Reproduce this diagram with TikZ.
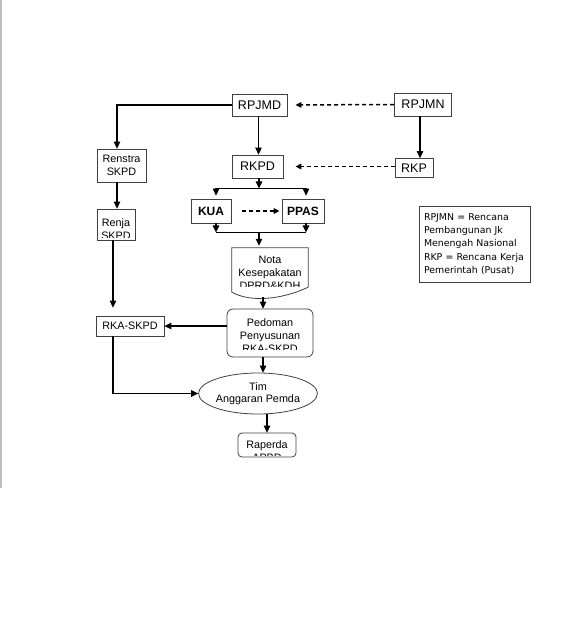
\documentclass[tikz,border=0pt]{standalone}
\usepackage{fontspec}
\setmainfont{Liberation Sans}
\newfontfamily\legendfont{DejaVu Sans}
\usepackage{tikz}
\usetikzlibrary{shapes.geometric,arrows.meta,positioning,calc}

% text in a box whose lower part is cut off
\newcommand{\cliptext}[3]{%
  \begin{scope}
    \clip (path picture bounding box.north west) rectangle
      ([yshift=-#2]path picture bounding box.north east);
    \node[anchor=north, inner sep=0pt, align=center, draw=none,
      minimum width=0pt, minimum height=0pt, rounded corners=0pt,
      font=\fontsize{10.8}{13}\selectfont]
      at ([yshift=-#1]path picture bounding box.north) {#3};
  \end{scope}}

\begin{document}
\begin{tikzpicture}[x=1pt, y=-1pt,
  box/.style={rectangle, draw=black!75, line width=0.8pt, inner sep=0pt,
    align=center, font=\fontsize{10.8}{13}\selectfont},
  bigbox/.style={box, font=\fontsize{12.5}{14}\selectfont},
  boldbox/.style={box, font=\fontsize{12}{14}\selectfont\bfseries},
  legend/.style={rectangle, draw=black!75, line width=0.8pt, align=left,
    text width=101pt, inner xsep=5pt, minimum height=76pt,
    font=\legendfont\fontsize{9.4}{13.2}\selectfont},
  arr/.style={-{Triangle[length=7pt,width=6.5pt]}, line width=1.3pt},
  dasharr/.style={-{Triangle[length=6pt,width=5.5pt]}, line width=1.5pt,
    dash pattern=on 4pt off 3pt},
  bar/.style={line width=1.3pt}
]
\useasboundingbox (0,0) rectangle (578,640);
\fill[black!25] (0,0) rectangle (2.3,488);

% Top: planning documents
\node[bigbox, minimum width=55pt, minimum height=22pt] (rpjmd) at (259.5,105) {RPJMD};
\node[bigbox, minimum width=57pt, minimum height=23pt] (rpjmn) at (423,104.5) {RPJMN};
\node[box, minimum width=49pt, minimum height=33pt] (renstra) at (121.5,165.5) {Renstra\\SKPD};
\node[bigbox, minimum width=51pt, minimum height=23pt] (rkpd) at (257.5,166.5) {RKPD};
\node[bigbox, minimum width=38pt, minimum height=19pt] (rkp) at (414,168) {RKP};
\node[boldbox, minimum width=40pt, minimum height=24pt] (kua) at (211,211) {KUA};
\node[boldbox, minimum width=42pt, minimum height=24pt] (ppas) at (303,211) {PPAS};
\node[box, minimum width=38pt, minimum height=31pt,
  path picture={\cliptext{9pt}{28.5pt}{Renja\\SKPD}}] (renja) at (116,224.5) {};

% Middle: agreement and guidelines
\node[inner sep=0pt, minimum width=76pt, minimum height=44pt,
  path picture={\cliptext{8pt}{38pt}{Nota\\Kesepakatan\\DPRD\&KDH}}] (nota) at (270,270) {};
\draw[draw=black!75, line width=0.8pt]
  ([yshift=5pt]nota.south east) -- (nota.north east) -- (nota.north west) -- (nota.south west)
  .. controls ($(nota.south west)+(18,10)$) and ($(nota.south east)+(-28,8)$)
  .. ([yshift=5pt]nota.south east);
\node[box, rounded corners=6pt, minimum width=86pt, minimum height=48pt,
  path picture={\cliptext{9pt}{40pt}{Pedoman\\Penyusunan\\RKA-SKPD}}] (pedoman) at (270,333) {};
\node[box, minimum width=68pt, minimum height=20pt] (rkaskpd) at (130,326) {RKA-SKPD};

% Bottom: budget team and draft regulation
\node[ellipse, draw=black!75, line width=0.8pt, inner sep=0pt, align=center,
  minimum width=110pt, minimum height=41pt,
  font=\fontsize{10.8}{12.5}\selectfont] (tim) at (258,393.5) {Tim\\Anggaran Pemda};
\node[box, rounded corners=4pt, minimum width=58pt, minimum height=24pt,
  path picture={\cliptext{7pt}{22pt}{Raperda\\APBD}}] (raperda) at (267,445) {};

% Legend
\node[legend] (legend) at (474.5,244) {RPJMN = Rencana\\Pembangunan Jk\\Menengah Nasional\\RKP = Rencana Kerja\\Pemerintah (Pusat)};

% Left branch
\draw[arr] (rpjmd.west) -| ([xshift=-4.5pt]renstra.north);
\draw[arr] ([xshift=-4.5pt]renstra.south) -- ([xshift=1pt]renja.north);
\draw[arr, shorten >=8pt] ([xshift=-3pt]renja.south) -- ([xshift=-3pt]renja.south |- rkaskpd.north);
\draw[arr] ([xshift=-17pt]rkaskpd.south) |- (tim.west);

% Central planning
\draw[dasharr, shorten >=8pt] (rpjmn.west) -- (rpjmd.east);
\draw[dasharr, shorten >=12pt] (rkp.west |- rkpd.east) -- (rkpd.east);
\draw[arr] ([xshift=-3pt]rpjmn.south) -- ([xshift=6pt]rkp.north);
\draw[arr] ([xshift=-1pt]rpjmd.south) -- ([xshift=1pt]rkpd.north);

% Split to KUA and PPAS
\coordinate (upbar) at ($(rkpd.south)+(1.5,10)$);
\draw[arr] ([xshift=1.5pt]rkpd.south) -- (upbar);
\draw[bar] ([xshift=5pt]kua.north |- upbar) -- ([xshift=3pt]ppas.north |- upbar);
\draw[arr, shorten >=3pt] ([xshift=5pt]kua.north |- upbar) -- ([xshift=5pt]kua.north);
\draw[arr, shorten >=3pt] ([xshift=3pt]ppas.north |- upbar) -- ([xshift=3pt]ppas.north);
\draw[dasharr, shorten <=11pt, shorten >=2pt] (kua.east) -- (ppas.west);

% Join to Nota
\coordinate (lowbar) at ($(upbar)+(0,44)$);
\draw[arr] ([xshift=5pt]kua.south) -- ([xshift=5pt]kua.south |- lowbar);
\draw[arr] ([xshift=3pt]ppas.south) -- ([xshift=3pt]ppas.south |- lowbar);
\draw[bar] ([xshift=5pt]kua.south |- lowbar) -- ([xshift=3pt]ppas.south |- lowbar);
\draw[arr, shorten >=2pt] (lowbar) -- (lowbar |- nota.north);

% Down to the draft
\draw[arr] ([xshift=-7pt,yshift=-5pt]nota.south) -- ([xshift=-7pt]pedoman.north);
\draw[arr] (rkaskpd.east -| pedoman.west) -- (rkaskpd.east);
\draw[arr] ([xshift=-7pt]pedoman.south) -- ([xshift=-7pt]pedoman.south |- tim.north);
\draw[arr] ([xshift=9pt]tim.south) -- ([xshift=9pt]tim.south |- raperda.north);

\end{tikzpicture}
\end{document}
